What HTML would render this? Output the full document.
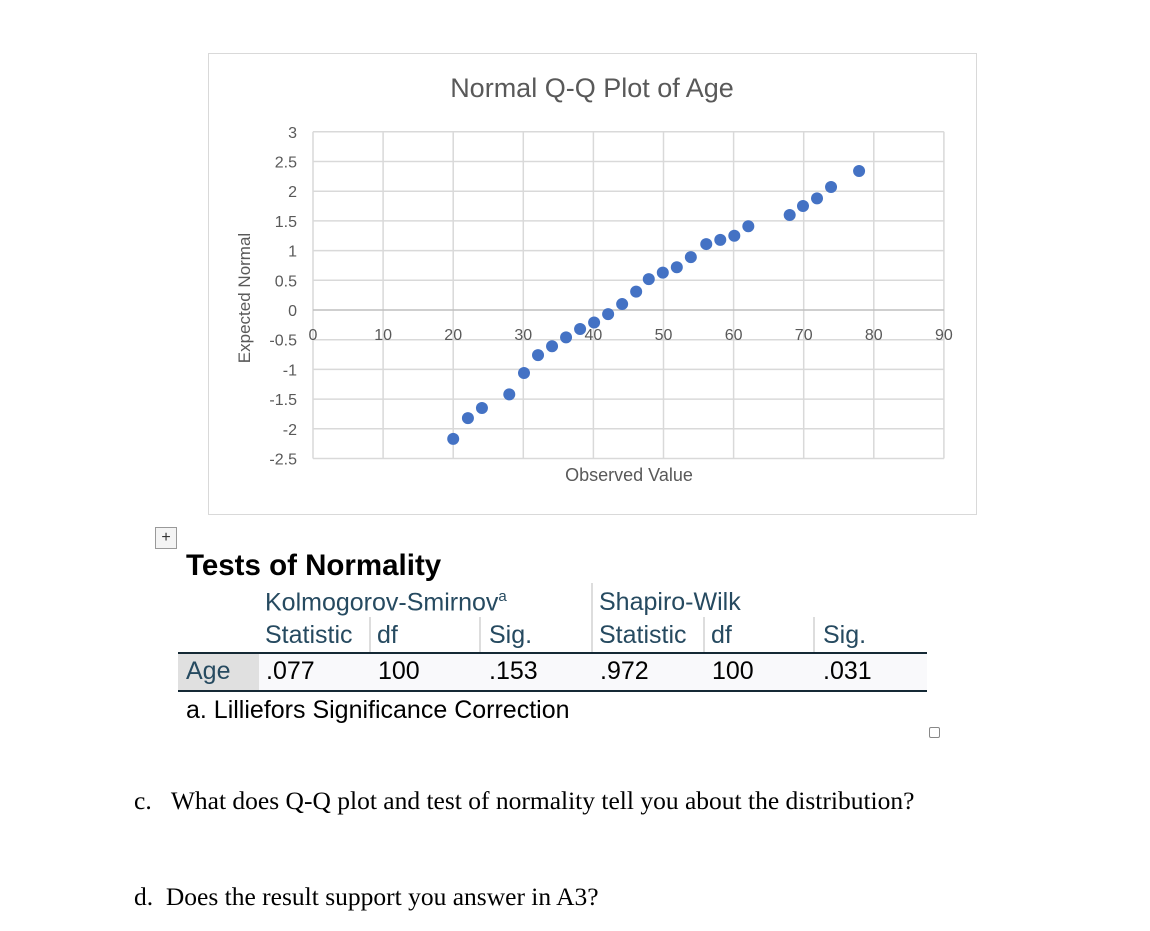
<!DOCTYPE html>
<html><head><meta charset="utf-8"><style>
body{margin:0;width:1150px;height:931px;background:#fff;position:relative;overflow:hidden;font-family:"Liberation Sans",Arial,sans-serif}
.a{position:absolute;white-space:nowrap}
.h{color:#264a60;font-size:25px}
.v{color:#000;font-size:25px}
.q{font-family:"Liberation Serif",serif;font-size:25.5px;color:#000}
</style></head><body>
<svg class="a" style="left:0;top:0" width="1150" height="931">
<rect x="208.5" y="53.5" width="768" height="461" fill="#fff" stroke="#d9d9d9"/>
<g id="grid"></g><g id="pts"></g><g id="lbl"></g>
<text x="592" y="97" text-anchor="middle" font-size="27" fill="#595959" font-family="Liberation Sans,sans-serif">Normal Q-Q Plot of Age</text>
<text transform="translate(250,298) rotate(-90)" text-anchor="middle" font-size="17" fill="#595959" font-family="Liberation Sans,sans-serif">Expected Normal</text>
<text x="629" y="481" text-anchor="middle" font-size="18" fill="#595959" font-family="Liberation Sans,sans-serif">Observed Value</text>
</svg>
<script>
const xTicks=[0,10,20,30,40,50,60,70,80,90];
const yTicks=[3,2.5,2,1.5,1,0.5,0,-0.5,-1,-1.5,-2,-2.5];
const observed=[20,22.1,24.1,28,30.1,32.1,34.1,36.1,38.1,40.1,42.1,44.1,46.1,47.9,49.9,51.9,53.9,56.1,58.1,60.1,62.1,68,69.9,71.9,73.9,77.9];
const expected=[-2.17,-1.82,-1.65,-1.42,-1.06,-0.76,-0.61,-0.46,-0.32,-0.21,-0.07,0.10,0.31,0.52,0.63,0.72,0.89,1.11,1.18,1.25,1.41,1.60,1.75,1.88,2.07,2.34];
const X=v=>313+v*7.01, Y=v=>310-v*59.4;
const NS='http://www.w3.org/2000/svg';
const g=document.getElementById('grid'),p=document.getElementById('pts'),l=document.getElementById('lbl');
function mk(tag,at,par,txt){const e=document.createElementNS(NS,tag);for(const k in at)e.setAttribute(k,at[k]);if(txt!=null)e.textContent=txt;par.appendChild(e);return e;}
xTicks.forEach(t=>{const e=mk('line',{x1:X(t),x2:X(t),y1:Y(3),y2:Y(-2.5),stroke:'#d9d9d9','stroke-width':1.5},g);


const s=mk('text',{x:X(t),y:340,'text-anchor':'middle','font-size':16,fill:'#595959','font-family':'Liberation Sans,sans-serif'},l,String(t));

});
yTicks.forEach(t=>{const e=mk('line',{x1:X(0),x2:X(90),y1:Y(t),y2:Y(t),stroke:t===0?'#bfbfbf':'#d9d9d9','stroke-width':1.5},g);


const s=mk('text',{x:297,y:Y(t)+6,'text-anchor':'end','font-size':16,fill:'#595959','font-family':'Liberation Sans,sans-serif'},l,String(t));

});
observed.forEach((v,i)=>{const c=mk('circle',{cx:X(v),cy:Y(expected[i]),r:6,fill:'#4472c4'},p);

});
</script>
<div class="a" style="left:155px;top:527px;width:20px;height:20px;border:1px solid #999;background:#f4f4f4;font-size:16px;line-height:20px;text-align:center;color:#333">+</div>
<div class="a" style="left:186px;top:549px;font-size:29.5px;font-weight:bold">Tests of Normality</div>
<div class="a h" style="left:265px;top:588px">Kolmogorov-Smirnov<sup style="font-size:15px">a</sup></div>
<div class="a h" style="left:599px;top:588px">Shapiro-Wilk</div>
<div>
<div class="a" style="left:591px;top:583px;width:2px;height:106px;background:#ddd"></div>
<div class="a" style="left:369px;top:617px;width:2px;height:72px;background:#ddd"></div>
<div class="a" style="left:479px;top:617px;width:2px;height:72px;background:#ddd"></div>
<div class="a" style="left:703px;top:617px;width:2px;height:72px;background:#ddd"></div>
<div class="a" style="left:813px;top:617px;width:2px;height:72px;background:#ddd"></div>
</div>
<div class="a h" style="left:265px;top:621px">Statistic</div>
<div class="a h" style="left:377px;top:621px">df</div>
<div class="a h" style="left:489px;top:621px">Sig.</div>
<div class="a h" style="left:599px;top:621px">Statistic</div>
<div class="a h" style="left:711px;top:621px">df</div>
<div class="a h" style="left:823px;top:621px">Sig.</div>
<div class="a" style="left:178px;top:652px;width:749px;height:36px;background:#f9f9fb;border-top:2px solid #152935;border-bottom:2px solid #152935"></div>
<div class="a" style="left:178px;top:654px;width:81px;height:36px;background:#e0e0e0"></div>
<div class="a h" style="left:186px;top:657px;font-size:25px">Age</div>
<div class="a v" style="left:266px;top:657px">.077</div>
<div class="a v" style="left:378px;top:657px">100</div>
<div class="a v" style="left:489px;top:657px">.153</div>
<div class="a v" style="left:600px;top:657px">.972</div>
<div class="a v" style="left:712px;top:657px">100</div>
<div class="a v" style="left:823px;top:657px">.031</div>
<div class="a v" style="left:186px;top:696px">a. Lilliefors Significance Correction</div>
<div class="a" style="left:929px;top:727px;width:9px;height:9px;border:1px solid #888;border-radius:2px"></div>
<div class="a q" style="left:134px;top:786px">c.&nbsp;&nbsp;&nbsp;What does Q-Q plot and test of normality tell you about the distribution?</div>
<div class="a q" style="left:134px;top:882px">d.&nbsp;&nbsp;Does the result support you answer in A3?</div>
</body></html>
